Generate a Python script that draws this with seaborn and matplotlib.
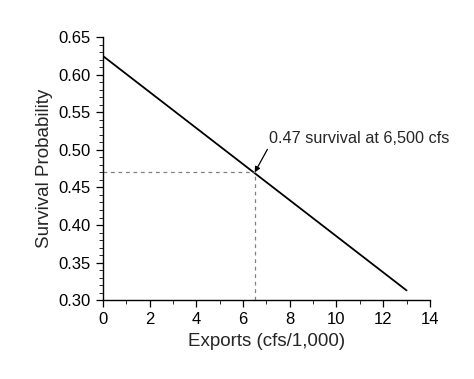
"""Survival probability vs exports — seaborn line chart"""

import matplotlib
matplotlib.use("Agg")
import matplotlib.pyplot as plt
import seaborn as sns
import pandas as pd
from matplotlib.ticker import MultipleLocator, FormatStrFormatter

# data
exports = [0, 13]
survival = [0.625, 0.313]
mark_x = 6.5
mark_y = 0.47
note = "0.47 survival at 6,500 cfs"

sns.set_theme(style="ticks")
plt.rcParams["font.family"] = ["Liberation Sans", "DejaVu Sans"]

df = pd.DataFrame({"Exports": exports, "Survival": survival})

fig = plt.figure(figsize=(4.74, 3.79), dpi=100)
ax = fig.add_axes([0.217, 0.208, 0.69, 0.694])

sns.lineplot(data=df, x="Exports", y="Survival", color="black", linewidth=1.3, ax=ax)

# 参照線
ax.plot([0, mark_x], [mark_y, mark_y], color="gray", linestyle=(0, (3, 3)), linewidth=0.9)
ax.plot([mark_x, mark_x], [0.30, mark_y], color="gray", linestyle=(0, (3, 3)), linewidth=0.9)

ax.annotate(note, xy=(mark_x, mark_y), xytext=(7.12, 0.515),
            fontsize=11.7, ha="left", va="center",
            arrowprops=dict(arrowstyle="-|>", color="black", lw=0.9, shrinkA=0, shrinkB=0,
                            mutation_scale=8, relpos=(0, 0)))

ax.set_xlim(0, 14)
ax.set_ylim(0.30, 0.65)
ax.xaxis.set_major_locator(MultipleLocator(2))
ax.xaxis.set_minor_locator(MultipleLocator(1))
ax.yaxis.set_major_locator(MultipleLocator(0.05))
ax.yaxis.set_minor_locator(MultipleLocator(0.01))
ax.yaxis.set_major_formatter(FormatStrFormatter("%.2f"))
ax.tick_params(which="major", length=5, width=0.9, labelsize=12, colors="black")
ax.tick_params(which="minor", length=3, width=0.7)
for s in ["left", "bottom"]:
    ax.spines[s].set_color("black")
    ax.spines[s].set_linewidth(1.0)
sns.despine(ax=ax)

ax.set_xlabel("Exports (cfs/1,000)", fontsize=13.5)
ax.set_ylabel("Survival Probability", fontsize=13.5)

fig.savefig("out.png", dpi=100)
